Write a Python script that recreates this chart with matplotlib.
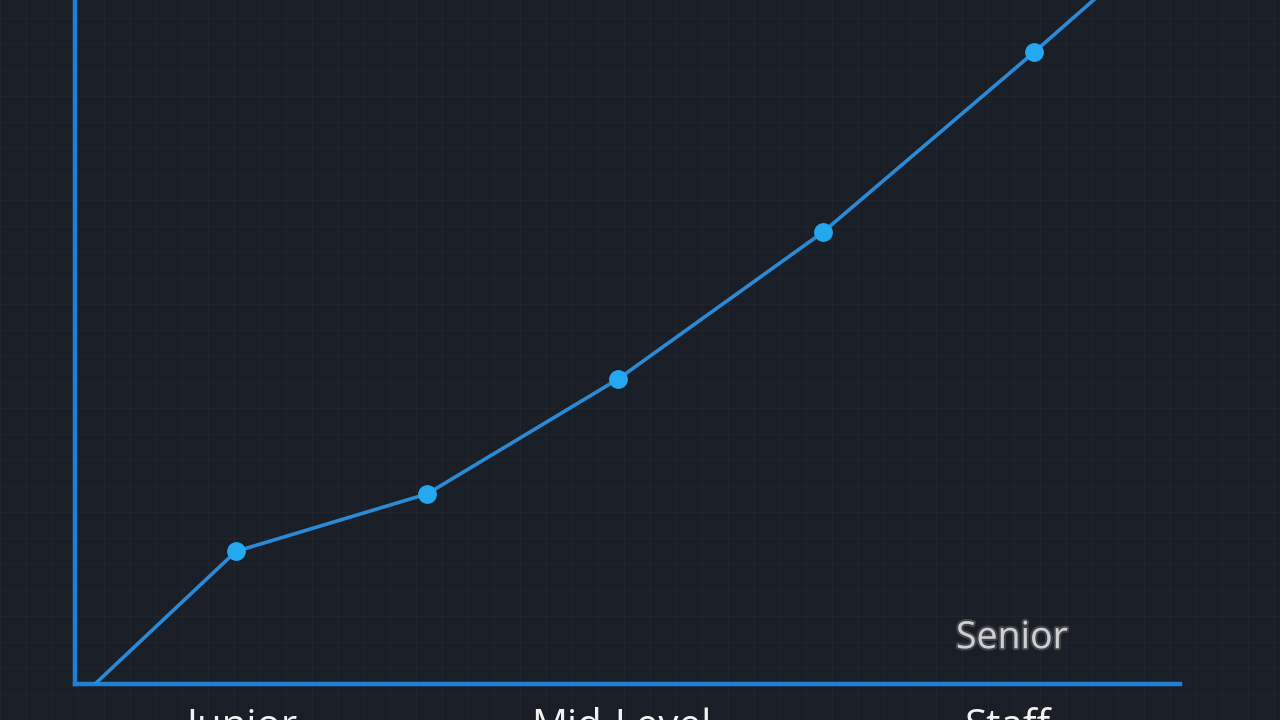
import matplotlib
matplotlib.use("Agg")
import matplotlib.pyplot as plt
import numpy as np
import matplotlib.patheffects as pe

# Data (arbitrary units)
career_x = [0.2, 1.61, 3.52, 5.43, 7.48, 9.59, 10.75]
career_y = [0.0, 19.4, 27.8, 44.6, 66.1, 92.4, 107.3]
marker_x = [1.61, 3.52, 5.43, 7.48, 9.59]
marker_y = [19.4, 27.8, 44.6, 66.1, 92.4]
tick_pos = [1.67, 5.46, 9.33]
tick_labels = ["Junior", "Mid-Level", "Staff"]
annot_label = "Senior"
annot_xy = (9.37, 6.7)

BG = "#1a1f27"
BLUE = "#1f80d8"
LINE = "#2b8ad6"
MARK = "#24a8f0"

fig = plt.figure(figsize=(12.8, 7.2), dpi=100, facecolor=BG)

# faint background grid
bg = fig.add_axes([0, 0, 1, 1], zorder=0)
bg.set_facecolor(BG)
bg.set_xlim(0, 1280)
bg.set_ylim(0, 720)
for gx in np.arange(0, 1280, 26):
    bg.axvline(gx, color="#232932", lw=0.8, alpha=0.6)
for gy in np.arange(0, 720, 26):
    bg.axhline(gy, color="#232932", lw=0.8, alpha=0.6)
bg.axis("off")

ax_bottom = 36 / 720
ax_height = 752 / 720
ax = fig.add_axes([75 / 1280, ax_bottom, 1105 / 1280, ax_height], zorder=1)
ax.patch.set_alpha(0)
ax.set_xlim(0, 11.05)
ax.set_ylim(0, 110)

ax.plot(career_x, career_y, color=LINE, lw=2.6, solid_capstyle="round", zorder=3)
ax.plot(marker_x, marker_y, "o", color=MARK, ms=12.5, mec=MARK, zorder=4)

for s in ["top", "right"]:
    ax.spines[s].set_visible(False)
for s in ["left", "bottom"]:
    ax.spines[s].set_color(BLUE)
    ax.spines[s].set_linewidth(3.2)

ax.set_yticks([])
ax.set_xticks(tick_pos)
ax.set_xticklabels(tick_labels, fontsize=29, color="#f2f2f2", family="Open Sans")
ax.tick_params(axis="x", length=0, pad=17)

ax.text(annot_xy[0], annot_xy[1], annot_label, fontsize=27, color="#cfcfcf",
        family="Open Sans", ha="center", va="center",
        path_effects=[pe.withStroke(linewidth=3, foreground="#5a5f66", alpha=0.6)])

fig.savefig("out.png", dpi=100, facecolor=BG)
